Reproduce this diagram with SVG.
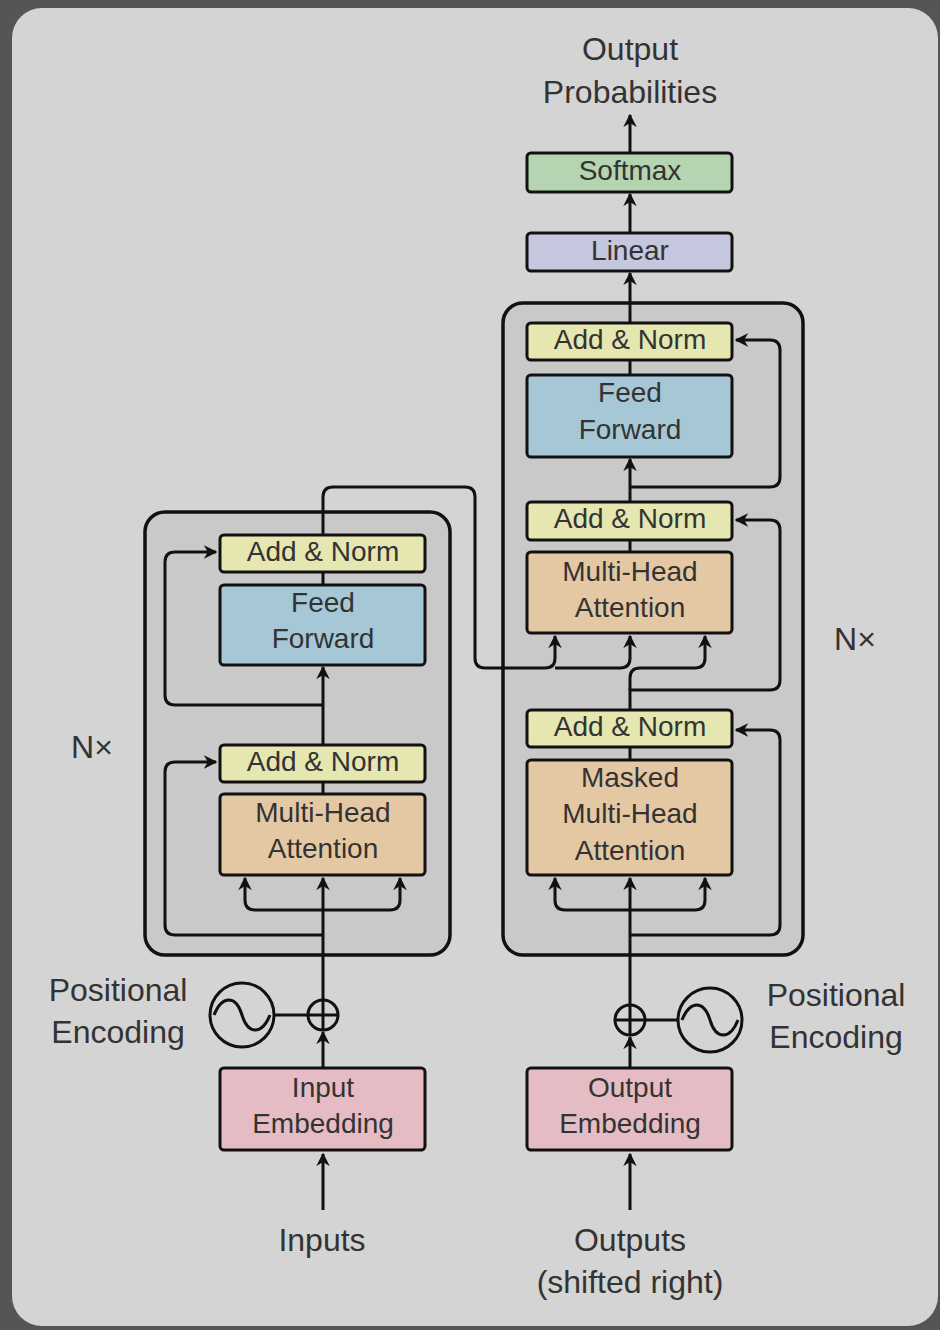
<svg xmlns="http://www.w3.org/2000/svg" width="940" height="1330" viewBox="0 0 940 1330">
<style>
text{font-family:"Liberation Sans",Arial,sans-serif;fill:#333;text-anchor:middle;dominant-baseline:middle}
.t{font-size:28px}.b{font-size:32px}
.box{stroke:#111;stroke-width:3}
.an{fill:#e6e6b0}.ff{fill:#a6c8d6}.mh{fill:#e4c8a4}.em{fill:#e6bcc4}
.c{fill:none;stroke:#111;stroke-width:3}
.blk{fill:#c9c9c9;stroke:#111;stroke-width:3.5}
</style>
<defs><marker id="a" viewBox="0 0 10 10" refX="9" refY="5" markerWidth="4.5" markerHeight="4.5" orient="auto-start-reverse"><path d="M0,0L10,5L0,10L3,5z" fill="#111"/></marker></defs>
<rect width="940" height="1330" fill="#fff"/>
<rect x="0" y="0" width="940" height="1330" fill="#555"/>
<rect x="12" y="8" width="926" height="1318" rx="30" fill="#d4d4d4"/>
<g id="encoder-block"><rect class="blk" x="145" y="512" width="305" height="443" rx="20"/></g>
<g id="decoder-block"><rect class="blk" x="503" y="303" width="300" height="652" rx="20"/></g>
<g id="connectors">
<path class="c" d="M323,1210V1154" marker-end="url(#a)"/>
<path class="c" d="M323,1068V1032" marker-end="url(#a)"/>
<path class="c" d="M323,1000V878" marker-end="url(#a)"/>
<path class="c" d="M274,1015H308"/>
<path class="c" d="M323,935H175Q165,935 165,925V772Q165,762 175,762H216" marker-end="url(#a)"/>
<path class="c" d="M245,878V900Q245,910 255,910H390Q400,910 400,900V878" marker-start="url(#a)" marker-end="url(#a)"/>
<path class="c" d="M323,782V794"/>
<path class="c" d="M323,745V667" marker-end="url(#a)"/>
<path class="c" d="M323,705H175Q165,705 165,695V562Q165,552 175,552H216" marker-end="url(#a)"/>
<path class="c" d="M323,572V585"/>
<path class="c" d="M323,535V497Q323,487 333,487H465Q475,487 475,497V658Q475,668 485,668H545Q555,668 555,658V636" marker-end="url(#a)"/>
<path class="c" d="M555,668H620Q630,668 630,658V636" marker-end="url(#a)"/>
<path class="c" d="M630,1210V1154" marker-end="url(#a)"/>
<path class="c" d="M630,1068V1037" marker-end="url(#a)"/>
<path class="c" d="M630,1005V878" marker-end="url(#a)"/>
<path class="c" d="M645,1020H678"/>
<path class="c" d="M630,935H770Q780,935 780,925V740Q780,730 770,730H736" marker-end="url(#a)"/>
<path class="c" d="M555,878V900Q555,910 565,910H695Q705,910 705,900V878" marker-start="url(#a)" marker-end="url(#a)"/>
<path class="c" d="M630,747V760"/>
<path class="c" d="M630,710V690H770Q780,690 780,680V530Q780,520 770,520H736" marker-end="url(#a)"/>
<path class="c" d="M630,690V678Q630,668 640,668H695Q705,668 705,658V636" marker-end="url(#a)"/>
<path class="c" d="M630,540V552"/>
<path class="c" d="M630,502V459" marker-end="url(#a)"/>
<path class="c" d="M630,487H770Q780,487 780,477V350Q780,340 770,340H736" marker-end="url(#a)"/>
<path class="c" d="M630,360V375"/>
<path class="c" d="M630,323V273" marker-end="url(#a)"/>
<path class="c" d="M630,233V194" marker-end="url(#a)"/>
<path class="c" d="M630,153V115" marker-end="url(#a)"/>
</g>
<g id="enc-addnorm2"><rect class="box an" x="220" y="535" width="205" height="37" rx="4"/><text class="t" x="323" y="554">Add &amp; Norm</text></g>
<g id="enc-ff"><rect class="box ff" x="220" y="585" width="205" height="80" rx="4"/><text class="t" x="323" y="605">Feed</text><text class="t" x="323" y="641">Forward</text></g>
<g id="enc-addnorm1"><rect class="box an" x="220" y="745" width="205" height="37" rx="4"/><text class="t" x="323" y="764">Add &amp; Norm</text></g>
<g id="enc-mha"><rect class="box mh" x="220" y="794" width="205" height="81" rx="4"/><text class="t" x="323" y="815">Multi-Head</text><text class="t" x="323" y="851">Attention</text></g>
<g id="enc-pe"><circle cx="323" cy="1015" r="15" fill="none" stroke="#111" stroke-width="3"/><path class="c" d="M308,1015H338M323,1000V1030"/><circle cx="242" cy="1015" r="32" fill="none" stroke="#111" stroke-width="3"/><path class="c" d="M214,1015C222,995 236,995 242,1015C248,1035 262,1035 270,1015"/></g>
<g id="input-emb"><rect class="box em" x="220" y="1068" width="205" height="82" rx="4"/><text class="t" x="323" y="1090">Input</text><text class="t" x="323" y="1126">Embedding</text></g>
<g id="softmax"><rect class="box" fill="#b4d4b2" x="527" y="153" width="205" height="39" rx="4"/><text class="t" x="630" y="173">Softmax</text></g>
<g id="linear"><rect class="box" fill="#c4c7de" x="527" y="233" width="205" height="38" rx="4"/><text class="t" x="630" y="253">Linear</text></g>
<g id="dec-addnorm3"><rect class="box an" x="527" y="323" width="205" height="37" rx="4"/><text class="t" x="630" y="342">Add &amp; Norm</text></g>
<g id="dec-ff"><rect class="box ff" x="527" y="375" width="205" height="82" rx="4"/><text class="t" x="630" y="395">Feed</text><text class="t" x="630" y="432">Forward</text></g>
<g id="dec-addnorm2"><rect class="box an" x="527" y="502" width="205" height="38" rx="4"/><text class="t" x="630" y="521">Add &amp; Norm</text></g>
<g id="dec-mha"><rect class="box mh" x="527" y="552" width="205" height="81" rx="4"/><text class="t" x="630" y="574">Multi-Head</text><text class="t" x="630" y="610">Attention</text></g>
<g id="dec-addnorm1"><rect class="box an" x="527" y="710" width="205" height="37" rx="4"/><text class="t" x="630" y="729">Add &amp; Norm</text></g>
<g id="dec-mmha"><rect class="box mh" x="527" y="760" width="205" height="115" rx="4"/><text class="t" x="630" y="780">Masked</text><text class="t" x="630" y="816">Multi-Head</text><text class="t" x="630" y="853">Attention</text></g>
<g id="dec-pe"><circle cx="630" cy="1020" r="15" fill="none" stroke="#111" stroke-width="3"/><path class="c" d="M615,1020H645M630,1005V1035"/><circle cx="710" cy="1020" r="32" fill="none" stroke="#111" stroke-width="3"/><path class="c" d="M682,1020C690,1000 704,1000 710,1020C716,1040 730,1040 738,1020"/></g>
<g id="output-emb"><rect class="box em" x="527" y="1068" width="205" height="82" rx="4"/><text class="t" x="630" y="1090">Output</text><text class="t" x="630" y="1126">Embedding</text></g>
<g id="labels">
<text class="b" x="630" y="52">Output</text><text class="b" x="630" y="95">Probabilities</text>
<text class="b" x="92" y="750">N×</text><text class="b" x="855" y="642">N×</text>
<text class="b" x="118" y="993">Positional</text><text class="b" x="118" y="1035">Encoding</text>
<text class="b" x="836" y="998">Positional</text><text class="b" x="836" y="1040">Encoding</text>
<text class="b" x="322" y="1243">Inputs</text>
<text class="b" x="630" y="1243">Outputs</text><text class="b" x="630" y="1285">(shifted right)</text>
</g>
</svg>
